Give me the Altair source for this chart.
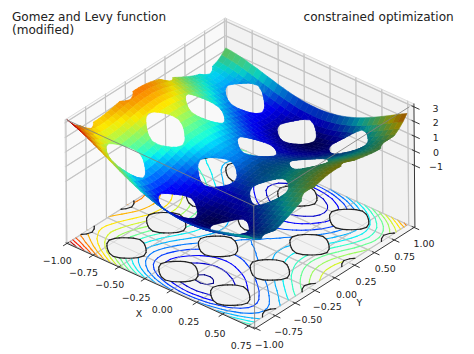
import altair as alt
import math

W, H = 466, 346
x_vals = [-1,-.95,-.9,-.85,-.8,-.75,-.7,-.65,-.6,-.55,-.5,-.45,-.4,-.35,-.3,-.25,-.2,-.15,-.1,-.05,0,.05,.1,.15,.2,.25,.3,.35,.4,.45,.5,.55,.6,.65,.7,.75]
y_vals = [-1,-.95,-.9,-.85,-.8,-.75,-.7,-.65,-.6,-.55,-.5,-.45,-.4,-.35,-.3,-.25,-.2,-.15,-.1,-.05,0,.05,.1,.15,.2,.25,.3,.35,.4,.45,.5,.55,.6,.65,.7,.75,.8,.85,.9,.95,1]
# surface height in hundredths, one row per y value
z_rows = [
 [323,309,294,277,259,239,220,199,178,158,137,118,99,81,64,49,36,24,14,6,0,-4,-6,-6,-4,-1,4,11,19,28,37,48,58,69,80,89],
 [283,269,255,238,220,200,182,161,140,120,100,81,62,44,28,13,0,-12,-21,-29,-35,-39,-41,-40,-38,-35,-30,-22,-14,-5,4,16,26,37,48,58],
 [251,238,223,207,189,170,151,131,110,91,70,52,33,16,-1,-15,-28,-39,-49,-56,-62,-66,-67,-67,-64,-61,-55,-48,-39,-30,-20,-9,2,13,25,34],
 [228,215,201,184,167,148,130,109,89,70,50,31,13,-4,-20,-35,-47,-58,-67,-75,-80,-83,-85,-84,-81,-77,-72,-64,-55,-45,-36,-24,-13,-1,10,20],
 [211,198,184,168,151,132,114,94,74,55,35,17,-1,-18,-34,-48,-60,-71,-80,-87,-92,-95,-96,-95,-92,-88,-82,-74,-65,-55,-45,-33,-22,-10,2,12],
 [200,187,174,158,141,122,105,85,65,46,27,9,-9,-26,-41,-55,-67,-78,-86,-93,-98,-101,-102,-100,-97,-93,-87,-78,-69,-59,-49,-36,-25,-13,-1,10],
 [193,181,167,152,135,117,99,80,60,42,22,5,-13,-29,-45,-58,-70,-80,-89,-95,-100,-103,-103,-102,-98,-94,-87,-79,-69,-59,-48,-36,-24,-12,1,11],
 [190,178,165,149,133,115,98,78,59,41,22,4,-13,-29,-44,-58,-69,-79,-87,-94,-98,-100,-101,-99,-95,-90,-84,-75,-65,-54,-44,-31,-19,-6,6,17],
 [191,179,166,151,135,117,100,81,62,44,25,8,-9,-25,-40,-53,-64,-74,-82,-88,-92,-94,-94,-92,-88,-83,-76,-67,-57,-46,-35,-22,-10,3,16,27],
 [194,182,170,155,139,121,105,86,67,49,31,14,-3,-19,-33,-46,-57,-67,-74,-80,-84,-86,-86,-83,-79,-74,-67,-57,-47,-36,-25,-11,1,14,27,39],
 [198,187,174,160,144,127,110,92,73,56,37,21,4,-11,-26,-38,-49,-58,-66,-71,-75,-77,-76,-74,-69,-64,-56,-47,-36,-25,-13,0,13,26,40,51],
 [203,192,180,165,150,133,117,98,80,63,45,28,12,-3,-17,-30,-40,-49,-56,-62,-65,-66,-66,-63,-58,-52,-45,-35,-24,-12,-1,13,26,40,53,65],
 [209,198,186,172,157,140,124,106,88,71,53,37,21,6,-8,-20,-30,-39,-46,-51,-54,-55,-54,-51,-46,-40,-32,-22,-11,1,13,27,40,54,68,80],
 [215,204,193,179,164,147,132,114,96,79,62,46,30,15,2,-10,-20,-29,-35,-40,-43,-44,-43,-39,-34,-28,-20,-9,2,14,26,41,54,68,82,95],
 [220,210,198,185,170,154,138,121,103,87,69,54,38,24,10,-1,-11,-19,-26,-30,-33,-34,-32,-29,-23,-17,-8,2,14,26,39,53,67,81,96,108],
 [225,215,204,190,176,160,145,127,110,94,77,61,46,32,19,7,-2,-10,-16,-21,-23,-23,-22,-18,-12,-5,3,14,26,39,51,66,80,95,109,122],
 [228,218,207,194,180,164,149,132,115,99,82,67,52,38,25,14,5,-3,-9,-13,-15,-15,-13,-9,-3,4,13,24,36,49,62,77,91,106,121,134],
 [229,219,209,196,182,166,152,135,118,102,86,71,56,42,30,19,10,2,-3,-7,-9,-9,-7,-2,4,11,20,32,44,57,70,86,100,115,130,144],
 [229,220,209,197,183,168,153,137,120,105,88,74,59,46,33,23,14,7,1,-2,-4,-4,-1,3,10,17,27,38,51,64,78,93,108,123,139,152],
 [227,218,208,195,182,167,153,136,120,105,89,74,60,47,35,24,16,9,4,0,-1,0,2,7,14,22,31,43,56,70,83,99,114,130,145,159],
 [223,214,204,192,179,164,150,134,118,103,87,73,59,46,34,24,16,9,4,1,0,1,4,9,16,24,34,46,59,73,87,103,118,134,150,164],
 [217,208,198,187,174,159,145,130,114,99,83,70,56,43,31,22,14,7,2,0,-1,0,4,9,16,24,35,47,60,74,89,105,120,136,153,167],
 [209,200,191,179,167,152,139,123,108,93,78,64,51,38,27,17,10,3,-1,-4,-4,-2,1,7,14,23,33,46,59,74,88,105,120,137,153,168],
 [199,191,181,170,158,144,130,115,100,86,70,57,44,32,20,11,4,-2,-7,-9,-9,-7,-3,2,10,19,30,42,56,71,86,102,118,135,152,166],
 [188,180,171,160,148,134,121,106,91,77,62,49,36,24,13,4,-3,-9,-13,-15,-15,-13,-9,-3,5,14,25,38,52,67,82,99,115,132,149,164],
 [175,167,158,148,136,122,109,95,80,66,51,39,26,14,3,-5,-12,-18,-22,-23,-23,-21,-16,-10,-2,7,19,32,46,61,77,94,110,127,145,160],
 [160,152,144,133,122,108,96,81,67,53,39,26,14,2,-8,-17,-23,-29,-32,-34,-33,-30,-26,-19,-11,-1,10,24,38,54,69,87,103,121,138,154],
 [145,138,129,119,108,95,82,68,54,41,26,14,2,-9,-20,-28,-34,-39,-43,-44,-43,-40,-35,-29,-20,-10,2,15,30,46,62,79,96,114,132,147],
 [129,122,114,104,93,80,68,54,40,27,13,1,-11,-22,-32,-40,-46,-51,-54,-55,-54,-51,-46,-39,-30,-20,-8,6,21,37,53,71,88,106,124,140],
 [113,106,98,89,78,65,53,40,26,13,-1,-12,-24,-35,-45,-52,-58,-63,-66,-66,-65,-62,-56,-49,-40,-30,-17,-3,12,28,45,63,80,98,117,133],
 [98,91,84,74,64,51,40,26,13,0,-13,-25,-36,-47,-56,-64,-69,-74,-76,-77,-75,-71,-66,-58,-49,-38,-26,-11,4,21,37,56,73,92,110,127],
 [84,78,70,61,51,39,27,14,1,-11,-25,-36,-47,-57,-67,-74,-79,-83,-86,-86,-84,-80,-74,-67,-57,-46,-33,-19,-3,14,31,49,67,86,105,121],
 [71,65,58,49,39,27,16,3,-10,-22,-35,-46,-57,-67,-76,-83,-88,-92,-94,-94,-92,-88,-82,-74,-64,-53,-40,-25,-9,8,25,44,62,81,100,117],
 [60,54,47,39,29,17,6,-6,-19,-31,-44,-54,-65,-75,-84,-90,-95,-99,-101,-100,-98,-94,-87,-79,-69,-58,-44,-29,-13,4,22,41,59,78,98,115],
 [53,47,41,32,23,11,1,-12,-24,-36,-48,-59,-69,-79,-87,-94,-98,-102,-103,-103,-100,-95,-89,-80,-70,-58,-45,-29,-13,5,22,42,60,80,99,117],
 [50,45,38,30,21,10,-1,-13,-25,-36,-49,-59,-69,-78,-87,-93,-97,-100,-102,-101,-98,-93,-86,-78,-67,-55,-41,-26,-9,9,27,46,65,85,105,122],
 [51,46,40,32,23,12,2,-10,-22,-33,-45,-55,-65,-74,-82,-88,-92,-95,-96,-95,-92,-87,-80,-71,-60,-48,-34,-18,-1,17,35,55,74,94,114,132],
 [58,53,47,40,31,20,10,-1,-13,-24,-36,-45,-55,-64,-72,-77,-81,-84,-85,-83,-80,-75,-67,-58,-47,-35,-20,-4,13,31,50,70,89,109,130,148],
 [71,66,61,53,45,34,25,13,2,-9,-20,-30,-39,-48,-55,-61,-64,-67,-67,-66,-62,-56,-49,-39,-28,-15,-1,16,33,52,70,91,110,131,151,170],
 [93,89,83,76,68,58,48,37,26,16,4,-5,-14,-22,-30,-35,-38,-40,-41,-39,-35,-29,-21,-12,0,13,28,44,62,81,100,120,140,161,182,200],
 [123,119,114,107,99,89,80,69,58,48,37,28,19,11,4,-1,-4,-6,-6,-4,0,6,14,24,36,49,64,81,99,118,137,158,178,199,220,239],
]
hole_cx = [-1.125, -.625, -.125, .375, .875]
hole_cy = [-.75, -.25, .25, .75]
hole_u = [.167,.15,.13,.105,.077,.05,0,-.05,-.077,-.105,-.13,-.15,-.167,-.15,-.13,-.105,-.077,-.05,0,.05,.077,.105,.13,.15]
hole_v = [0,.05,.077,.105,.13,.15,.167,.15,.13,.105,.077,.05,0,-.05,-.077,-.105,-.13,-.15,-.167,-.15,-.13,-.105,-.077,-.05]
levels = [-1,-.75,-.5,-.25,0,.25,.5,.75,1,1.25,1.5,1.75,2,2.25,2.5,2.75,3,3.25]
x_ticks = [-1,-.75,-.5,-.25,0,.25,.5,.75]
y_ticks = [-1,-.75,-.5,-.25,0,.25,.5,.75,1]
z_ticks = [-1,0,1,2,3]
x_labels = ["−1.00","−0.75","−0.50","−0.25","0.00","0.25","0.50","0.75"]
y_labels = ["−1.00","−0.75","−0.50","−0.25","0.00","0.25","0.50","0.75","1.00"]
z_labels = ["−1","0","1","2","3"]
XL, XH, YL, YH, ZL, ZH = -1.01, .81, -1.01, 1.01, -5.2, 3.2
jet_t = [0,.11,.125,.34,.375,.5,.64,.66,.89,.91,1]
jet_c = ["#00007f","#0000ff","#0000ff","#00dbff","#0dffe9","#7aff7d","#fff000","#ffe000","#ff1600","#e30000","#7f0000"]
jet_dom = [-1.03+4.26*t for t in jet_t]
jet = alt.Scale(domain=jet_dom, range=jet_c, clamp=True, interpolate="rgb")
Z = [[v/100 for v in r] for r in z_rows]

def shaded(z, f):
    t = min(1, max(0, (z+1.03)/4.26))
    for k in range(len(jet_t)-1):
        if t <= jet_t[k+1]:
            u = (t-jet_t[k])/(jet_t[k+1]-jet_t[k])
            a, b = jet_c[k], jet_c[k+1]
            rgb = [int(a[i:i+2],16)*(1-u)+int(b[i:i+2],16)*u for i in (1,3,5)]
            return "#%02x%02x%02x" % tuple(int(round(v*f)) for v in rgb)
    return jet_c[-1]

def P(x, y, z):
    return (59 + (x-XL)*105.5 + (y-YL)*80.7 + (z-ZL)*-.12,
            236 + (x-XL)*48 - (y-YL)*51.3 - (z-ZL)*14.9)

def clip(poly, a, b, inside):
    out = []
    def s(p):
        v = (b[0]-a[0])*(p[1]-a[1]) - (b[1]-a[1])*(p[0]-a[0])
        return v if inside else -v
    for i in range(len(poly)):
        p, q = poly[i], poly[(i+1) % len(poly)]
        sp, sq = s(p), s(q)
        if sp >= 0:
            out.append(p)
        if (sp >= 0) != (sq >= 0):
            t = sp/(sp-sq)
            out.append((p[0]+t*(q[0]-p[0]), p[1]+t*(q[1]-p[1])))
    return out

holes = [[(cx+u, cy+v) for u, v in zip(hole_u, hole_v)] for cx in hole_cx for cy in hole_cy]

def subtract(pieces, hole):
    res = []
    hx = [p[0] for p in hole]; hy = [p[1] for p in hole]
    for poly in pieces:
        px = [p[0] for p in poly]; py = [p[1] for p in poly]
        if max(px) <= min(hx) or min(px) >= max(hx) or max(py) <= min(hy) or min(py) >= max(hy):
            res.append(poly); continue
        rest = poly
        for i in range(len(hole)):
            a, b = hole[i], hole[(i+1) % len(hole)]
            o = clip(rest, a, b, False)
            if len(o) >= 3:
                res.append(o)
            rest = clip(rest, a, b, True)
            if len(rest) < 3:
                break
    return res

def light(i, j):
    x0, x1, y0, y1 = x_vals[i], x_vals[i+1], y_vals[j], y_vals[j+1]
    a, b, c, d = Z[j][i], Z[j][i+1], Z[j+1][i+1], Z[j+1][i]
    fx = ((b-a)+(c-d))/2/(x1-x0)
    fy = ((d-a)+(c-b))/2/(y1-y0)
    return min(1, max(.45, .72 - .29*fx/math.sqrt(fx*fx+fy*fy+1)))

quads = []
for j in range(len(y_vals)-1):
    for i in range(len(x_vals)-1):
        x0, x1, y0, y1 = x_vals[i], x_vals[i+1], y_vals[j], y_vals[j+1]
        a, b, c, d = Z[j][i], Z[j][i+1], Z[j+1][i+1], Z[j+1][i]
        def zat(x, y):
            u, v = (x-x0)/(x1-x0), (y-y0)/(y1-y0)
            return a*(1-u)*(1-v)+b*u*(1-v)+c*u*v+d*(1-u)*v
        pieces = [[(x0,y0),(x1,y0),(x1,y1),(x0,y1)]]
        for h in holes:
            pieces = subtract(pieces, h)
        zm = (a+b+c+d)/4
        depth = .45*(x0+x1)/2/1.8 - .54*(y0+y1)/2/2 + .7*(zm-ZL)/8.4
        col = shaded(zm, light(i, j))
        for poly in pieces:
            ring = [[round(v, 2) for v in P(x, y, zat(x, y))] for x, y in poly]
            ring.append(ring[0])
            quads.append({"type":"Feature","properties":{},"geometry":{"type":"Polygon","coordinates":[ring]},"c":col,"d":depth})
quads.sort(key=lambda q: q["d"])
for q in quads:
    del q["d"]

def seg(rows, p, q, **kw):
    a, b = P(*p), P(*q)
    rows.append(dict(x1=round(a[0],2), y1=round(a[1],2), x2=round(b[0],2), y2=round(b[1],2), **kw))

contours = []
for lv in levels:
    for j in range(len(y_vals)-1):
        for i in range(len(x_vals)-1):
            cs = [(x_vals[i],y_vals[j],Z[j][i]),(x_vals[i+1],y_vals[j],Z[j][i+1]),
                  (x_vals[i+1],y_vals[j+1],Z[j+1][i+1]),(x_vals[i],y_vals[j+1],Z[j+1][i])]
            pts = []
            for k in range(4):
                p, q = cs[k], cs[(k+1)%4]
                if (p[2] >= lv) != (q[2] >= lv):
                    t = (lv-p[2])/(q[2]-p[2])
                    pts.append((p[0]+t*(q[0]-p[0]), p[1]+t*(q[1]-p[1])))
            for k in range(0, len(pts)-1, 2):
                seg(contours, (*pts[k], ZL), (*pts[k+1], ZL), lv=lv)

grid = []
for t in x_ticks:
    seg(grid, (t,YL,ZL), (t,YH,ZL))
    seg(grid, (t,YH,ZL), (t,YH,ZH))
for t in y_ticks:
    seg(grid, (XL,t,ZL), (XH,t,ZL))
    seg(grid, (XL,t,ZL), (XL,t,ZH))
for t in z_ticks:
    seg(grid, (XL,YL,t), (XL,YH,t))
    seg(grid, (XL,YH,t), (XH,YH,t))
edges = []
seg(edges, (XL,YL,ZL), (XL,YL,ZH)); seg(edges, (XL,YL,ZH), (XL,YH,ZH))
seg(edges, (XL,YH,ZH), (XH,YH,ZH)); seg(edges, (XL,YH,ZL), (XL,YH,ZH))

def geo(ring3):
    r = [list(P(*p)) for p in ring3]; r.append(r[0])
    return {"type":"Feature","properties":{},"geometry":{"type":"Polygon","coordinates":[r]}}

blob_feats, outlines = [], []
for h in holes:
    poly = clip(clip(h, (-1,1), (-1,-1), True), (.75,-1), (.75,1), True)
    if len(poly) >= 3:
        blob_feats.append(geo([(x,y,ZL) for x,y in poly]))
    for i in range(len(h)):
        p, q = h[i], h[(i+1)%len(h)]
        s = clip([p,q], (-1,1), (-1,-1), True)
        s = clip(s, (.75,-1), (.75,1), True) if len(s) >= 2 else s
        if len(s) >= 2:
            seg(outlines, (s[0][0],s[0][1],ZL), (s[1][0],s[1][1],ZL))

axes = []
seg(axes, (XL,YL,ZL), (XH,YL,ZL)); seg(axes, (XH,YL,ZL), (XH,YH,ZL)); seg(axes, (XH,YH,ZL), (XH,YH,ZH))
for t in x_ticks: seg(axes, (t,YL+.02,ZL), (t,YL-.045,ZL))
for t in y_ticks: seg(axes, (XH-.02,t,ZL), (XH+.045,t,ZL))
for t in z_ticks: seg(axes, (XH-.02,YH,t), (XH+.05,YH,t))

box = []
seg(box, (-1,-1,ZH), (XH,YL,ZH)); seg(box, (XH,YL,ZH), (XH,.95,ZH)); seg(box, (XH,YL,ZH), (XH,YL,ZL))

texts = []
for t, s in zip(x_ticks, x_labels):
    a = P(t,YL,ZL); texts.append(dict(x=a[0]-10+(t+1)*1.5, y=a[1]+18+(t+1)*1.5, t=s))
for t, s in zip(y_ticks, y_labels):
    a = P(XH,t,ZL); texts.append(dict(x=a[0]+10+(1-t)*2, y=a[1]+17, t=s))
for t, s in zip(z_ticks, z_labels):
    a = P(XH,YH,t); texts.append(dict(x=a[0]+22, y=a[1]+2, t=s))
a = P(-.125,YL,ZL); texts.append(dict(x=a[0]-19, y=a[1]+30, t="X"))
a = P(XH,0,ZL); texts.append(dict(x=a[0]+25, y=a[1]+26, t="Y"))

sx = alt.Scale(domain=[0,W], range=[0,W], nice=False, zero=False)
sy = alt.Scale(domain=[H,0], nice=False, zero=False)
X = alt.X("x1:Q", scale=sx, axis=None)
Y = alt.Y("y1:Q", scale=sy, axis=None)
proj = dict(type="identity", scale=1, translate=[0,0])

def rules(rows, color, width, opacity=1):
    return alt.Chart(alt.Data(values=rows)).mark_rule(color=color, strokeWidth=width, opacity=opacity, strokeCap="round").encode(
        x=X, y=Y, x2="x2:Q", y2="y2:Q")

def pane(ring, color):
    return alt.Chart(alt.Data(values=[geo(ring)])).mark_geoshape(fill=color, stroke=None).encode(opacity=alt.value(1)).project(**proj)

left = pane([(XL,YL,ZL),(XL,YH,ZL),(XL,YH,ZH),(XL,YL,ZH)], "#f9f9f9")
right = pane([(XL,YH,ZL),(XH,YH,ZL),(XH,YH,ZH),(XL,YH,ZH)], "#f2f2f2")
floor = pane([(XL,YL,ZL),(XH,YL,ZL),(XH,YH,ZL),(XL,YH,ZL)], "#f5f5f5")

contour_layer = alt.Chart(alt.Data(values=contours)).mark_rule(strokeWidth=1.1, strokeCap="round").encode(
    x=X, y=Y, x2="x2:Q", y2="y2:Q", color=alt.Color("lv:Q", scale=jet, legend=None))
blob_layer = alt.Chart(alt.Data(values=blob_feats)).mark_geoshape(fill="#f2f2f2", stroke=None).encode(opacity=alt.value(1)).project(**proj)
surface = alt.Chart(alt.Data(values=quads)).mark_geoshape(strokeWidth=.6).encode(
    fill=alt.Fill("c:N", scale=None),
    stroke=alt.Stroke("c:N", scale=None)).project(**proj)

font = "DejaVu Sans"
labels = alt.Chart(alt.Data(values=texts)).mark_text(font=font, fontSize=9.6, color="#222222", align="center", baseline="middle").encode(
    x=alt.X("x:Q", scale=sx, axis=None), y=alt.Y("y:Q", scale=sy, axis=None), text="t:N")
title_left = alt.Chart(alt.Data(values=[dict(x=4, y=6, t="Gomez and Levy function"), dict(x=4, y=19, t="(modified)")])).mark_text(
    font=font, fontSize=12.3, color="#222222", align="left", baseline="middle").encode(
    x=alt.X("x:Q", scale=sx, axis=None), y=alt.Y("y:Q", scale=sy, axis=None), text="t:N")
title_right = alt.Chart(alt.Data(values=[dict(x=453.5, y=6, t="constrained optimization")])).mark_text(
    font=font, fontSize=12.3, color="#222222", align="right", baseline="middle").encode(
    x=alt.X("x:Q", scale=sx, axis=None), y=alt.Y("y:Q", scale=sy, axis=None), text="t:N")

chart = alt.layer(
    left, right, floor,
    rules(grid, "#c4c4c4", 1.2), rules(edges, "#dddddd", 1),
    contour_layer, blob_layer, rules(grid, "#c4c4c4", .9, .6),
    rules(outlines, "#222222", 1.2),
    rules(axes, "#333333", 1),
    surface,
    rules(box, "#808080", 1, .85),
    labels, title_left, title_right,
).properties(width=W, height=H, padding=0, autosize=alt.AutoSizeParams(type="none")).configure_view(stroke=None)

chart.save("out.html", embed_options={"renderer": "svg", "actions": False})
